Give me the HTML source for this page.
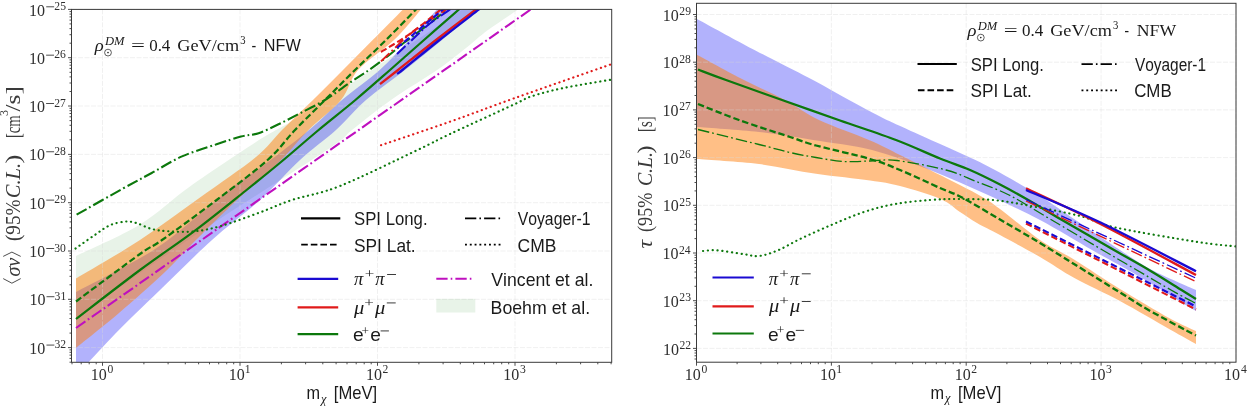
<!DOCTYPE html>
<html><head><meta charset="utf-8"><title>plot</title>
<style>html,body{margin:0;padding:0;background:#fff;width:1247px;height:407px;overflow:hidden}svg{display:block}text{font-kerning:none}</style>
</head><body>
<svg width="1247" height="407" viewBox="0 0 1247 407" style="will-change:transform;font-kerning:none"><defs><clipPath id="cl"><rect x="71.5" y="9.4" width="540.2" height="352.9"/></clipPath><clipPath id="cr"><rect x="696.5" y="3.3" width="539.5" height="358.9"/></clipPath></defs>
<g clip-path="url(#cl)">
<path d="M76.00,256.00 C86.67,250.75 121.00,236.08 140.00,224.50 C159.00,212.92 170.67,200.25 190.00,186.50 C209.33,172.75 239.00,152.92 256.00,142.00 C273.00,131.08 278.00,129.50 292.00,121.00 C306.00,112.50 322.00,102.67 340.00,91.00 C358.00,79.33 379.67,64.60 400.00,51.00 C420.33,37.40 450.33,17.90 462.00,9.40 C473.67,0.90 468.67,1.57 470.00,0.00 L530.00,0.00 C528.00,1.57 525.00,4.40 518.00,9.40 C511.00,14.40 496.67,23.57 488.00,30.00 C479.33,36.43 474.00,41.67 466.00,48.00 C458.00,54.33 452.50,59.33 440.00,68.00 C427.50,76.67 405.67,89.67 391.00,100.00 C376.33,110.33 362.67,121.67 352.00,130.00 C341.33,138.33 352.33,133.00 327.00,150.00 C301.67,167.00 241.83,204.00 200.00,232.00 C158.17,260.00 96.67,303.67 76.00,318.00 Z" fill="rgba(10,130,10,0.095)" />
<path d="M76.00,292.00 C88.67,285.17 131.33,264.00 152.00,251.00 C172.67,238.00 187.00,224.33 200.00,214.00 C213.00,203.67 219.33,197.17 230.00,189.00 C240.67,180.83 250.83,174.83 264.00,165.00 C277.17,155.17 296.00,140.83 309.00,130.00 C322.00,119.17 330.22,110.00 342.00,100.00 C353.78,90.00 368.53,80.00 379.70,70.00 C390.87,60.00 399.45,50.10 409.00,40.00 C418.55,29.90 430.67,16.07 437.00,9.40 C443.33,2.73 445.33,1.57 447.00,0.00 L487.00,0.00 C485.33,1.57 484.50,2.73 477.00,9.40 C469.50,16.07 454.00,29.90 442.00,40.00 C430.00,50.10 417.67,60.00 405.00,70.00 C392.33,80.00 377.50,90.00 366.00,100.00 C354.50,110.00 347.00,120.00 336.00,130.00 C325.00,140.00 312.67,148.33 300.00,160.00 C287.33,171.67 274.67,186.67 260.00,200.00 C245.33,213.33 228.83,224.83 212.00,240.00 C195.17,255.17 175.17,275.33 159.00,291.00 C142.83,306.67 128.83,319.83 115.00,334.00 C101.17,348.17 82.50,369.00 76.00,376.00 Z" fill="rgba(20,20,245,0.33)" />
<path d="M76.00,278.50 C86.67,272.08 119.33,253.50 140.00,240.00 C160.67,226.50 180.67,211.33 200.00,197.50 C219.33,183.67 242.33,168.25 256.00,157.00 C269.67,145.75 272.50,139.50 282.00,130.00 C291.50,120.50 302.83,110.00 313.00,100.00 C323.17,90.00 333.05,80.00 343.00,70.00 C352.95,60.00 362.70,50.10 372.70,40.00 C382.70,29.90 396.45,16.07 403.00,9.40 C409.55,2.73 410.50,1.57 412.00,0.00 L429.00,0.00 C427.67,1.57 426.83,2.73 421.00,9.40 C415.17,16.07 404.50,29.90 394.00,40.00 C383.50,50.10 366.83,60.00 358.00,70.00 C349.17,80.00 349.25,90.00 341.00,100.00 C332.75,110.00 318.50,120.00 308.50,130.00 C298.50,140.00 292.92,148.33 281.00,160.00 C269.08,171.67 251.17,186.67 237.00,200.00 C222.83,213.33 208.00,228.00 196.00,240.00 C184.00,252.00 177.83,259.83 165.00,272.00 C152.17,284.17 133.83,300.33 119.00,313.00 C104.17,325.67 83.17,342.17 76.00,348.00 Z" fill="rgba(255,127,14,0.5)" />
</g>
<g stroke="#d8d8d8" stroke-opacity="0.38" stroke-width="1" stroke-dasharray="5,1.5"><line x1="102.5" y1="9.4" x2="102.5" y2="362.3"/><line x1="240.0" y1="9.4" x2="240.0" y2="362.3"/><line x1="377.5" y1="9.4" x2="377.5" y2="362.3"/><line x1="515.0" y1="9.4" x2="515.0" y2="362.3"/><line x1="71.5" y1="9.4" x2="611.7" y2="9.4"/><line x1="71.5" y1="57.7" x2="611.7" y2="57.7"/><line x1="71.5" y1="106.0" x2="611.7" y2="106.0"/><line x1="71.5" y1="154.4" x2="611.7" y2="154.4"/><line x1="71.5" y1="202.7" x2="611.7" y2="202.7"/><line x1="71.5" y1="251.0" x2="611.7" y2="251.0"/><line x1="71.5" y1="299.3" x2="611.7" y2="299.3"/><line x1="71.5" y1="347.6" x2="611.7" y2="347.6"/></g>
<g clip-path="url(#cl)">
<path d="M76.00,328.00 C151.75,274.93 452.67,64.13 530.50,9.60 C608.33,-44.93 540.92,2.27 543.00,0.80" fill="none" stroke="#bf10bf" stroke-width="2.1" stroke-dasharray="11.6,3,1.8,3" stroke-linejoin="round" />
<path d="M381.00,145.20 C392.50,141.28 427.67,129.57 450.00,121.70 C472.33,113.83 488.00,107.62 515.00,98.00 C542.00,88.38 595.83,69.67 612.00,64.00" fill="none" stroke="#e01a1a" stroke-width="2.15" stroke-dasharray="0.2,4.65" stroke-linecap="round" stroke-linejoin="round" />
<path d="M75.50,248.50 C78.63,246.30 88.58,239.17 94.30,235.30 C100.02,231.43 104.63,227.58 109.80,225.30 C114.97,223.02 120.88,221.98 125.30,221.60 C129.72,221.22 131.88,221.77 136.30,223.00 C140.72,224.23 146.27,227.62 151.80,229.00 C157.33,230.38 162.47,230.90 169.50,231.30 C176.53,231.70 185.42,232.28 194.00,231.40 C202.58,230.52 210.00,229.17 221.00,226.00 C232.00,222.83 248.17,216.73 260.00,212.40 C271.83,208.07 278.67,204.40 292.00,200.00 C305.33,195.60 319.08,194.33 340.00,186.00 C360.92,177.67 399.17,158.67 417.50,150.00 C435.83,141.33 433.75,141.67 450.00,134.00 C466.25,126.33 501.50,110.25 515.00,104.00 C528.50,97.75 522.90,99.17 531.00,96.50 C539.10,93.83 550.10,90.83 563.60,88.00 C577.10,85.17 603.93,80.92 612.00,79.50" fill="none" stroke="#0c780c" stroke-width="2.15" stroke-dasharray="0.2,4.65" stroke-linecap="round" stroke-linejoin="round" />
<path d="M76.60,214.70 C84.33,210.33 110.48,195.45 123.00,188.50 C135.52,181.55 141.87,178.35 151.70,173.00 C161.53,167.65 171.18,161.18 182.00,156.40 C192.82,151.62 206.77,147.62 216.60,144.30 C226.43,140.98 234.00,138.35 241.00,136.50 C248.00,134.65 252.35,135.23 258.60,133.20 C264.85,131.17 271.60,127.62 278.50,124.30 C285.40,120.98 292.25,117.35 300.00,113.30 C307.75,109.25 317.00,104.88 325.00,100.00 C333.00,95.12 340.67,89.00 348.00,84.00 C355.33,79.00 362.33,74.67 369.00,70.00 C375.67,65.33 382.00,60.67 388.00,56.00 C394.00,51.33 398.83,46.83 405.00,42.00 C411.17,37.17 417.92,32.43 425.00,27.00 C432.08,21.57 441.67,13.90 447.50,9.40 C453.33,4.90 457.92,1.57 460.00,0.00" fill="none" stroke="#0c780c" stroke-width="2.1" stroke-dasharray="11.6,3,1.8,3" stroke-linejoin="round" />
<path d="M76.00,301.50 C86.67,293.58 125.67,264.25 140.00,254.00 C154.33,243.75 149.33,248.92 162.00,240.00 C174.67,231.08 198.40,213.83 216.00,200.50 C233.60,187.17 254.43,171.75 267.60,160.00 C280.77,148.25 285.43,140.00 295.00,130.00 C304.57,120.00 315.00,110.00 325.00,100.00 C335.00,90.00 344.83,80.00 355.00,70.00 C365.17,60.00 375.83,50.10 386.00,40.00 C396.17,29.90 409.50,16.07 416.00,9.40 C422.50,2.73 423.50,1.57 425.00,0.00" fill="none" stroke="#0c780c" stroke-width="2.2" stroke-dasharray="6.5,3" stroke-linejoin="round" />
<path d="M76.00,319.00 C86.67,310.83 120.33,284.60 140.00,270.00 C159.67,255.40 176.45,244.57 194.00,231.40 C211.55,218.23 230.80,202.57 245.30,191.00 C259.80,179.43 268.88,172.08 281.00,162.00 C293.12,151.92 305.60,140.83 318.00,130.50 C330.40,120.17 343.40,110.08 355.40,100.00 C367.40,89.92 378.57,80.00 390.00,70.00 C401.43,60.00 412.50,50.10 424.00,40.00 C435.50,29.90 451.33,16.07 459.00,9.40 C466.67,2.73 468.17,1.57 470.00,0.00" fill="none" stroke="#0c780c" stroke-width="2.2" stroke-linejoin="round" />
<path d="M380.00,84.20 C383.00,81.83 388.67,77.37 398.00,70.00 C407.33,62.63 423.00,50.10 436.00,40.00 C449.00,29.90 467.42,15.98 476.00,9.40 C484.58,2.82 485.58,1.98 487.50,0.50" fill="none" stroke="#e01a1a" stroke-width="2.3" stroke-linejoin="round" />
<path d="M397.00,73.80 C398.00,73.08 395.92,75.13 403.00,69.50 C410.08,63.87 426.83,50.02 439.50,40.00 C452.17,29.98 470.50,15.98 479.00,9.40 C487.50,2.82 488.58,1.98 490.50,0.50" fill="none" stroke="#1a0ad2" stroke-width="2.3" stroke-linejoin="round" />
<path d="M381.00,61.40 C383.60,58.92 392.93,50.07 396.60,46.50 C400.27,42.93 399.43,43.08 403.00,40.00 C406.57,36.92 410.83,33.10 418.00,28.00 C425.17,22.90 439.33,14.07 446.00,9.40 C452.67,4.73 456.00,1.57 458.00,0.00" fill="none" stroke="#e01a1a" stroke-width="2.0" stroke-dasharray="11.6,3,1.8,3" stroke-linejoin="round" />
<path d="M397.00,54.00 C399.50,51.67 406.83,44.83 412.00,40.00 C417.17,35.17 421.67,30.10 428.00,25.00 C434.33,19.90 444.33,13.57 450.00,9.40 C455.67,5.23 460.00,1.57 462.00,0.00" fill="none" stroke="#1a0ad2" stroke-width="2.0" stroke-dasharray="11.6,3,1.8,3" stroke-linejoin="round" />
<path d="M381.00,52.00 C385.83,48.97 400.00,40.90 410.00,33.80 C420.00,26.70 434.00,15.03 441.00,9.40 C448.00,3.77 450.17,1.57 452.00,0.00" fill="none" stroke="#e01a1a" stroke-width="2.1" stroke-dasharray="6.5,3" stroke-linejoin="round" />
<path d="M397.00,48.00 C404.67,41.57 433.50,17.40 443.00,9.40 C452.50,1.40 452.17,1.57 454.00,0.00" fill="none" stroke="#1a0ad2" stroke-width="2.1" stroke-dasharray="6.5,3" stroke-linejoin="round" />
</g>
<g clip-path="url(#cr)">
<path d="M696.50,18.70 C704.42,22.98 731.08,37.52 744.00,44.40 C756.92,51.28 762.50,54.07 774.00,60.00 C785.50,65.93 800.50,73.33 813.00,80.00 C825.50,86.67 837.83,93.92 849.00,100.00 C860.17,106.08 871.67,112.25 880.00,116.50 C888.33,120.75 890.33,121.50 899.00,125.50 C907.67,129.50 920.72,135.42 932.00,140.50 C943.28,145.58 956.20,151.08 966.70,156.00 C977.20,160.92 982.78,163.33 995.00,170.00 C1007.22,176.67 1026.58,187.67 1040.00,196.00 C1053.42,204.33 1062.17,211.00 1075.50,220.00 C1088.83,229.00 1107.25,241.67 1120.00,250.00 C1132.75,258.33 1139.33,263.33 1152.00,270.00 C1164.67,276.67 1188.67,286.67 1196.00,290.00 L1196.00,311.00 C1193.17,309.33 1184.67,304.50 1179.00,301.00 C1173.33,297.50 1170.50,295.17 1162.00,290.00 C1153.50,284.83 1139.67,276.67 1128.00,270.00 C1116.33,263.33 1106.67,258.33 1092.00,250.00 C1077.33,241.67 1057.33,229.17 1040.00,220.00 C1022.67,210.83 1006.33,203.33 988.00,195.00 C969.67,186.67 949.33,177.50 930.00,170.00 C910.67,162.50 891.50,155.00 872.00,150.00 C852.50,145.00 831.83,143.00 813.00,140.00 C794.17,137.00 778.42,134.17 759.00,132.00 C739.58,129.83 706.92,127.83 696.50,127.00 Z" fill="rgba(20,20,245,0.33)" />
<path d="M696.50,54.40 C704.42,58.67 729.25,72.40 744.00,80.00 C758.75,87.60 772.50,93.33 785.00,100.00 C797.50,106.67 805.00,113.33 819.00,120.00 C833.00,126.67 855.50,134.17 869.00,140.00 C882.50,145.83 889.83,150.00 900.00,155.00 C910.17,160.00 917.17,163.50 930.00,170.00 C942.83,176.50 965.33,187.50 977.00,194.00 C988.67,200.50 989.50,201.33 1000.00,209.00 C1010.50,216.67 1027.67,231.58 1040.00,240.00 C1052.33,248.42 1060.67,251.33 1074.00,259.50 C1087.33,267.67 1104.00,279.17 1120.00,289.00 C1136.00,298.83 1157.33,311.50 1170.00,318.50 C1182.67,325.50 1191.67,328.92 1196.00,331.00 L1196.00,344.00 C1191.67,341.58 1182.67,336.67 1170.00,329.50 C1157.33,322.33 1135.93,309.58 1120.00,301.00 C1104.07,292.42 1087.73,285.33 1074.40,278.00 C1061.07,270.67 1052.40,264.17 1040.00,257.00 C1027.60,249.83 1010.50,240.67 1000.00,235.00 C989.50,229.33 983.67,226.83 977.00,223.00 C970.33,219.17 966.08,216.00 960.00,212.00 C953.92,208.00 950.50,203.33 940.50,199.00 C930.50,194.67 911.75,189.08 900.00,186.00 C888.25,182.92 884.00,182.53 870.00,180.50 C856.00,178.47 834.50,176.55 816.00,173.80 C797.50,171.05 778.92,166.47 759.00,164.00 C739.08,161.53 706.92,159.83 696.50,159.00 Z" fill="rgba(255,127,14,0.5)" />
</g>
<g stroke="#d8d8d8" stroke-opacity="0.38" stroke-width="1" stroke-dasharray="5,1.5"><line x1="696.5" y1="3.3" x2="696.5" y2="362.2"/><line x1="831.4" y1="3.3" x2="831.4" y2="362.2"/><line x1="966.2" y1="3.3" x2="966.2" y2="362.2"/><line x1="1101.1" y1="3.3" x2="1101.1" y2="362.2"/><line x1="1236.0" y1="3.3" x2="1236.0" y2="362.2"/><line x1="696.5" y1="14.5" x2="1236.0" y2="14.5"/><line x1="696.5" y1="62.2" x2="1236.0" y2="62.2"/><line x1="696.5" y1="109.9" x2="1236.0" y2="109.9"/><line x1="696.5" y1="157.6" x2="1236.0" y2="157.6"/><line x1="696.5" y1="205.3" x2="1236.0" y2="205.3"/><line x1="696.5" y1="253.0" x2="1236.0" y2="253.0"/><line x1="696.5" y1="300.7" x2="1236.0" y2="300.7"/><line x1="696.5" y1="348.4" x2="1236.0" y2="348.4"/></g>
<g clip-path="url(#cr)">
<path d="M703.00,251.00 C705.33,250.88 710.33,249.80 717.00,250.30 C723.67,250.80 736.00,253.05 743.00,254.00 C750.00,254.95 753.17,256.62 759.00,256.00 C764.83,255.38 771.17,253.13 778.00,250.30 C784.83,247.47 791.00,243.27 800.00,239.00 C809.00,234.73 821.33,229.20 832.00,224.70 C842.67,220.20 853.50,215.45 864.00,212.00 C874.50,208.55 884.00,206.00 895.00,204.00 C906.00,202.00 919.17,200.83 930.00,200.00 C940.83,199.17 948.83,198.93 960.00,199.00 C971.17,199.07 984.67,199.13 997.00,200.40 C1009.33,201.67 1020.17,204.00 1034.00,206.60 C1047.83,209.20 1066.50,212.53 1080.00,216.00 C1093.50,219.47 1095.33,223.07 1115.00,227.40 C1134.67,231.73 1177.83,238.83 1198.00,242.00 C1218.17,245.17 1229.67,245.67 1236.00,246.40" fill="none" stroke="#0c780c" stroke-width="2.15" stroke-dasharray="0.2,4.65" stroke-linecap="round" stroke-linejoin="round" />
<path d="M698.00,129.50 C708.17,132.00 743.67,140.67 759.00,144.50 C774.33,148.33 780.50,150.33 790.00,152.50 C799.50,154.67 807.17,156.00 816.00,157.50 C824.83,159.00 834.00,160.92 843.00,161.50 C852.00,162.08 861.00,161.17 870.00,161.00 C879.00,160.83 884.33,159.00 897.00,160.50 C909.67,162.00 933.00,166.58 946.00,170.00 C959.00,173.42 964.50,176.83 975.00,181.00 C985.50,185.17 996.50,188.67 1009.00,195.00 C1021.50,201.33 1034.42,209.83 1050.00,219.00 C1065.58,228.17 1082.33,238.17 1102.50,250.00 C1122.67,261.83 1156.17,281.50 1171.00,290.00 C1185.83,298.50 1187.33,298.75 1191.50,301.00 C1195.67,303.25 1195.25,303.08 1196.00,303.50" fill="none" stroke="#0c780c" stroke-width="1.3" stroke-dasharray="11.6,3,1.8,3" stroke-linejoin="round" />
<path d="M698.00,104.00 C704.83,106.67 723.67,114.50 739.00,120.00 C754.33,125.50 777.17,132.75 790.00,137.00 C802.83,141.25 802.67,141.83 816.00,145.50 C829.33,149.17 856.00,154.92 870.00,159.00 C884.00,163.08 888.33,165.17 900.00,170.00 C911.67,174.83 929.67,183.42 940.00,188.00 C950.33,192.58 952.00,192.25 962.00,197.50 C972.00,202.75 987.00,211.92 1000.00,219.50 C1013.00,227.08 1027.67,235.58 1040.00,243.00 C1052.33,250.42 1060.67,255.75 1074.00,264.00 C1087.33,272.25 1107.58,284.83 1120.00,292.50 C1132.42,300.17 1135.83,302.82 1148.50,310.00 C1161.17,317.18 1188.08,331.33 1196.00,335.60" fill="none" stroke="#0c780c" stroke-width="2.3" stroke-dasharray="6.5,3" stroke-linejoin="round" />
<path d="M698.00,69.50 C702.67,71.25 712.00,74.92 726.00,80.00 C740.00,85.08 763.00,93.25 782.00,100.00 C801.00,106.75 821.00,113.83 840.00,120.50 C859.00,127.17 879.33,133.67 896.00,140.00 C912.67,146.33 927.67,153.50 940.00,158.50 C952.33,163.50 960.00,165.67 970.00,170.00 C980.00,174.33 990.00,179.33 1000.00,184.50 C1010.00,189.67 1019.67,195.08 1030.00,201.00 C1040.33,206.92 1048.00,211.83 1062.00,220.00 C1076.00,228.17 1099.50,241.67 1114.00,250.00 C1128.50,258.33 1137.75,263.33 1149.00,270.00 C1160.25,276.67 1173.67,285.17 1181.50,290.00 C1189.33,294.83 1193.58,297.50 1196.00,299.00" fill="none" stroke="#0c780c" stroke-width="2.3" stroke-linejoin="round" />
<path d="M1026.00,223.50 C1054.33,237.83 1167.67,295.17 1196.00,309.50" fill="none" stroke="#e01a1a" stroke-width="2.1" stroke-dasharray="6.5,3" stroke-linejoin="round" />
<path d="M1026.00,221.50 C1054.33,235.67 1167.67,292.33 1196.00,306.50" fill="none" stroke="#1a0ad2" stroke-width="2.1" stroke-dasharray="6.5,3" stroke-linejoin="round" />
<path d="M1026.00,201.00 C1054.33,214.43 1167.67,268.17 1196.00,281.60" fill="none" stroke="#e01a1a" stroke-width="1.3" stroke-dasharray="11.6,3,1.8,3" stroke-linejoin="round" />
<path d="M1026.00,199.50 C1054.33,212.62 1167.67,265.08 1196.00,278.20" fill="none" stroke="#1a0ad2" stroke-width="1.3" stroke-dasharray="11.6,3,1.8,3" stroke-linejoin="round" />
<path d="M1026.00,188.30 C1038.33,194.22 1071.67,209.35 1100.00,223.80 C1128.33,238.25 1180.00,266.47 1196.00,275.00" fill="none" stroke="#e01a1a" stroke-width="2.3" stroke-linejoin="round" />
<path d="M1026.00,190.00 C1038.33,195.38 1071.67,208.77 1100.00,222.30 C1128.33,235.83 1180.00,263.05 1196.00,271.20" fill="none" stroke="#1a0ad2" stroke-width="2.3" stroke-linejoin="round" />
</g>
<rect x="71.5" y="9.4" width="540.2" height="352.9" fill="none" stroke="#3a3a3a" stroke-width="1.0"/>
<rect x="696.5" y="3.3" width="539.5" height="358.9" fill="none" stroke="#3a3a3a" stroke-width="1.0"/>
<g stroke="#3a3a3a" stroke-width="0.9"><line x1="72.0" y1="362.3" x2="72.0" y2="364.3"/><line x1="81.2" y1="362.3" x2="81.2" y2="364.3"/><line x1="89.2" y1="362.3" x2="89.2" y2="364.3"/><line x1="96.2" y1="362.3" x2="96.2" y2="364.3"/><line x1="102.5" y1="362.3" x2="102.5" y2="365.8"/><line x1="143.9" y1="362.3" x2="143.9" y2="364.3"/><line x1="168.1" y1="362.3" x2="168.1" y2="364.3"/><line x1="185.3" y1="362.3" x2="185.3" y2="364.3"/><line x1="198.6" y1="362.3" x2="198.6" y2="364.3"/><line x1="209.5" y1="362.3" x2="209.5" y2="364.3"/><line x1="218.7" y1="362.3" x2="218.7" y2="364.3"/><line x1="226.7" y1="362.3" x2="226.7" y2="364.3"/><line x1="233.7" y1="362.3" x2="233.7" y2="364.3"/><line x1="240.0" y1="362.3" x2="240.0" y2="365.8"/><line x1="281.4" y1="362.3" x2="281.4" y2="364.3"/><line x1="305.6" y1="362.3" x2="305.6" y2="364.3"/><line x1="322.8" y1="362.3" x2="322.8" y2="364.3"/><line x1="336.1" y1="362.3" x2="336.1" y2="364.3"/><line x1="347.0" y1="362.3" x2="347.0" y2="364.3"/><line x1="356.2" y1="362.3" x2="356.2" y2="364.3"/><line x1="364.2" y1="362.3" x2="364.2" y2="364.3"/><line x1="371.2" y1="362.3" x2="371.2" y2="364.3"/><line x1="377.5" y1="362.3" x2="377.5" y2="365.8"/><line x1="418.9" y1="362.3" x2="418.9" y2="364.3"/><line x1="443.1" y1="362.3" x2="443.1" y2="364.3"/><line x1="460.3" y1="362.3" x2="460.3" y2="364.3"/><line x1="473.6" y1="362.3" x2="473.6" y2="364.3"/><line x1="484.5" y1="362.3" x2="484.5" y2="364.3"/><line x1="493.7" y1="362.3" x2="493.7" y2="364.3"/><line x1="501.7" y1="362.3" x2="501.7" y2="364.3"/><line x1="508.7" y1="362.3" x2="508.7" y2="364.3"/><line x1="515.0" y1="362.3" x2="515.0" y2="365.8"/><line x1="556.4" y1="362.3" x2="556.4" y2="364.3"/><line x1="580.6" y1="362.3" x2="580.6" y2="364.3"/><line x1="597.8" y1="362.3" x2="597.8" y2="364.3"/><line x1="611.1" y1="362.3" x2="611.1" y2="364.3"/><line x1="69.5" y1="362.2" x2="71.5" y2="362.2"/><line x1="69.5" y1="358.4" x2="71.5" y2="358.4"/><line x1="69.5" y1="355.1" x2="71.5" y2="355.1"/><line x1="69.5" y1="352.3" x2="71.5" y2="352.3"/><line x1="69.5" y1="349.9" x2="71.5" y2="349.9"/><line x1="68.0" y1="347.6" x2="71.5" y2="347.6"/><line x1="69.5" y1="333.1" x2="71.5" y2="333.1"/><line x1="69.5" y1="324.6" x2="71.5" y2="324.6"/><line x1="69.5" y1="318.5" x2="71.5" y2="318.5"/><line x1="69.5" y1="313.9" x2="71.5" y2="313.9"/><line x1="69.5" y1="310.0" x2="71.5" y2="310.0"/><line x1="69.5" y1="306.8" x2="71.5" y2="306.8"/><line x1="69.5" y1="304.0" x2="71.5" y2="304.0"/><line x1="69.5" y1="301.5" x2="71.5" y2="301.5"/><line x1="68.0" y1="299.3" x2="71.5" y2="299.3"/><line x1="69.5" y1="284.8" x2="71.5" y2="284.8"/><line x1="69.5" y1="276.3" x2="71.5" y2="276.3"/><line x1="69.5" y1="270.2" x2="71.5" y2="270.2"/><line x1="69.5" y1="265.5" x2="71.5" y2="265.5"/><line x1="69.5" y1="261.7" x2="71.5" y2="261.7"/><line x1="69.5" y1="258.5" x2="71.5" y2="258.5"/><line x1="69.5" y1="255.7" x2="71.5" y2="255.7"/><line x1="69.5" y1="253.2" x2="71.5" y2="253.2"/><line x1="68.0" y1="251.0" x2="71.5" y2="251.0"/><line x1="69.5" y1="236.5" x2="71.5" y2="236.5"/><line x1="69.5" y1="227.9" x2="71.5" y2="227.9"/><line x1="69.5" y1="221.9" x2="71.5" y2="221.9"/><line x1="69.5" y1="217.2" x2="71.5" y2="217.2"/><line x1="69.5" y1="213.4" x2="71.5" y2="213.4"/><line x1="69.5" y1="210.2" x2="71.5" y2="210.2"/><line x1="69.5" y1="207.4" x2="71.5" y2="207.4"/><line x1="69.5" y1="204.9" x2="71.5" y2="204.9"/><line x1="68.0" y1="202.7" x2="71.5" y2="202.7"/><line x1="69.5" y1="188.1" x2="71.5" y2="188.1"/><line x1="69.5" y1="179.6" x2="71.5" y2="179.6"/><line x1="69.5" y1="173.6" x2="71.5" y2="173.6"/><line x1="69.5" y1="168.9" x2="71.5" y2="168.9"/><line x1="69.5" y1="165.1" x2="71.5" y2="165.1"/><line x1="69.5" y1="161.8" x2="71.5" y2="161.8"/><line x1="69.5" y1="159.0" x2="71.5" y2="159.0"/><line x1="69.5" y1="156.6" x2="71.5" y2="156.6"/><line x1="68.0" y1="154.4" x2="71.5" y2="154.4"/><line x1="69.5" y1="139.8" x2="71.5" y2="139.8"/><line x1="69.5" y1="131.3" x2="71.5" y2="131.3"/><line x1="69.5" y1="125.3" x2="71.5" y2="125.3"/><line x1="69.5" y1="120.6" x2="71.5" y2="120.6"/><line x1="69.5" y1="116.8" x2="71.5" y2="116.8"/><line x1="69.5" y1="113.5" x2="71.5" y2="113.5"/><line x1="69.5" y1="110.7" x2="71.5" y2="110.7"/><line x1="69.5" y1="108.3" x2="71.5" y2="108.3"/><line x1="68.0" y1="106.0" x2="71.5" y2="106.0"/><line x1="69.5" y1="91.5" x2="71.5" y2="91.5"/><line x1="69.5" y1="83.0" x2="71.5" y2="83.0"/><line x1="69.5" y1="76.9" x2="71.5" y2="76.9"/><line x1="69.5" y1="72.3" x2="71.5" y2="72.3"/><line x1="69.5" y1="68.4" x2="71.5" y2="68.4"/><line x1="69.5" y1="65.2" x2="71.5" y2="65.2"/><line x1="69.5" y1="62.4" x2="71.5" y2="62.4"/><line x1="69.5" y1="59.9" x2="71.5" y2="59.9"/><line x1="68.0" y1="57.7" x2="71.5" y2="57.7"/><line x1="69.5" y1="43.2" x2="71.5" y2="43.2"/><line x1="69.5" y1="34.7" x2="71.5" y2="34.7"/><line x1="69.5" y1="28.6" x2="71.5" y2="28.6"/><line x1="69.5" y1="23.9" x2="71.5" y2="23.9"/><line x1="69.5" y1="20.1" x2="71.5" y2="20.1"/><line x1="69.5" y1="16.9" x2="71.5" y2="16.9"/><line x1="69.5" y1="14.1" x2="71.5" y2="14.1"/><line x1="69.5" y1="11.6" x2="71.5" y2="11.6"/><line x1="68.0" y1="9.4" x2="71.5" y2="9.4"/></g>
<g stroke="#3a3a3a" stroke-width="0.9"><line x1="696.5" y1="362.2" x2="696.5" y2="365.7"/><line x1="737.1" y1="362.2" x2="737.1" y2="364.2"/><line x1="760.9" y1="362.2" x2="760.9" y2="364.2"/><line x1="777.7" y1="362.2" x2="777.7" y2="364.2"/><line x1="790.8" y1="362.2" x2="790.8" y2="364.2"/><line x1="801.5" y1="362.2" x2="801.5" y2="364.2"/><line x1="810.5" y1="362.2" x2="810.5" y2="364.2"/><line x1="818.3" y1="362.2" x2="818.3" y2="364.2"/><line x1="825.2" y1="362.2" x2="825.2" y2="364.2"/><line x1="831.4" y1="362.2" x2="831.4" y2="365.7"/><line x1="872.0" y1="362.2" x2="872.0" y2="364.2"/><line x1="895.7" y1="362.2" x2="895.7" y2="364.2"/><line x1="912.6" y1="362.2" x2="912.6" y2="364.2"/><line x1="925.6" y1="362.2" x2="925.6" y2="364.2"/><line x1="936.3" y1="362.2" x2="936.3" y2="364.2"/><line x1="945.4" y1="362.2" x2="945.4" y2="364.2"/><line x1="953.2" y1="362.2" x2="953.2" y2="364.2"/><line x1="960.1" y1="362.2" x2="960.1" y2="364.2"/><line x1="966.2" y1="362.2" x2="966.2" y2="365.7"/><line x1="1006.9" y1="362.2" x2="1006.9" y2="364.2"/><line x1="1030.6" y1="362.2" x2="1030.6" y2="364.2"/><line x1="1047.5" y1="362.2" x2="1047.5" y2="364.2"/><line x1="1060.5" y1="362.2" x2="1060.5" y2="364.2"/><line x1="1071.2" y1="362.2" x2="1071.2" y2="364.2"/><line x1="1080.2" y1="362.2" x2="1080.2" y2="364.2"/><line x1="1088.1" y1="362.2" x2="1088.1" y2="364.2"/><line x1="1095.0" y1="362.2" x2="1095.0" y2="364.2"/><line x1="1101.1" y1="362.2" x2="1101.1" y2="365.7"/><line x1="1141.7" y1="362.2" x2="1141.7" y2="364.2"/><line x1="1165.5" y1="362.2" x2="1165.5" y2="364.2"/><line x1="1182.3" y1="362.2" x2="1182.3" y2="364.2"/><line x1="1195.4" y1="362.2" x2="1195.4" y2="364.2"/><line x1="1206.1" y1="362.2" x2="1206.1" y2="364.2"/><line x1="1215.1" y1="362.2" x2="1215.1" y2="364.2"/><line x1="1222.9" y1="362.2" x2="1222.9" y2="364.2"/><line x1="1229.8" y1="362.2" x2="1229.8" y2="364.2"/><line x1="694.5" y1="359.0" x2="696.5" y2="359.0"/><line x1="694.5" y1="355.8" x2="696.5" y2="355.8"/><line x1="694.5" y1="353.0" x2="696.5" y2="353.0"/><line x1="694.5" y1="350.6" x2="696.5" y2="350.6"/><line x1="693.0" y1="348.4" x2="696.5" y2="348.4"/><line x1="694.5" y1="334.0" x2="696.5" y2="334.0"/><line x1="694.5" y1="325.6" x2="696.5" y2="325.6"/><line x1="694.5" y1="319.7" x2="696.5" y2="319.7"/><line x1="694.5" y1="315.1" x2="696.5" y2="315.1"/><line x1="694.5" y1="311.3" x2="696.5" y2="311.3"/><line x1="694.5" y1="308.1" x2="696.5" y2="308.1"/><line x1="694.5" y1="305.3" x2="696.5" y2="305.3"/><line x1="694.5" y1="302.9" x2="696.5" y2="302.9"/><line x1="693.0" y1="300.7" x2="696.5" y2="300.7"/><line x1="694.5" y1="286.3" x2="696.5" y2="286.3"/><line x1="694.5" y1="277.9" x2="696.5" y2="277.9"/><line x1="694.5" y1="272.0" x2="696.5" y2="272.0"/><line x1="694.5" y1="267.4" x2="696.5" y2="267.4"/><line x1="694.5" y1="263.6" x2="696.5" y2="263.6"/><line x1="694.5" y1="260.4" x2="696.5" y2="260.4"/><line x1="694.5" y1="257.6" x2="696.5" y2="257.6"/><line x1="694.5" y1="255.2" x2="696.5" y2="255.2"/><line x1="693.0" y1="253.0" x2="696.5" y2="253.0"/><line x1="694.5" y1="238.6" x2="696.5" y2="238.6"/><line x1="694.5" y1="230.2" x2="696.5" y2="230.2"/><line x1="694.5" y1="224.3" x2="696.5" y2="224.3"/><line x1="694.5" y1="219.7" x2="696.5" y2="219.7"/><line x1="694.5" y1="215.9" x2="696.5" y2="215.9"/><line x1="694.5" y1="212.7" x2="696.5" y2="212.7"/><line x1="694.5" y1="209.9" x2="696.5" y2="209.9"/><line x1="694.5" y1="207.5" x2="696.5" y2="207.5"/><line x1="693.0" y1="205.3" x2="696.5" y2="205.3"/><line x1="694.5" y1="190.9" x2="696.5" y2="190.9"/><line x1="694.5" y1="182.5" x2="696.5" y2="182.5"/><line x1="694.5" y1="176.6" x2="696.5" y2="176.6"/><line x1="694.5" y1="172.0" x2="696.5" y2="172.0"/><line x1="694.5" y1="168.2" x2="696.5" y2="168.2"/><line x1="694.5" y1="165.0" x2="696.5" y2="165.0"/><line x1="694.5" y1="162.2" x2="696.5" y2="162.2"/><line x1="694.5" y1="159.8" x2="696.5" y2="159.8"/><line x1="693.0" y1="157.6" x2="696.5" y2="157.6"/><line x1="694.5" y1="143.2" x2="696.5" y2="143.2"/><line x1="694.5" y1="134.8" x2="696.5" y2="134.8"/><line x1="694.5" y1="128.9" x2="696.5" y2="128.9"/><line x1="694.5" y1="124.3" x2="696.5" y2="124.3"/><line x1="694.5" y1="120.5" x2="696.5" y2="120.5"/><line x1="694.5" y1="117.3" x2="696.5" y2="117.3"/><line x1="694.5" y1="114.5" x2="696.5" y2="114.5"/><line x1="694.5" y1="112.1" x2="696.5" y2="112.1"/><line x1="693.0" y1="109.9" x2="696.5" y2="109.9"/><line x1="694.5" y1="95.5" x2="696.5" y2="95.5"/><line x1="694.5" y1="87.1" x2="696.5" y2="87.1"/><line x1="694.5" y1="81.2" x2="696.5" y2="81.2"/><line x1="694.5" y1="76.6" x2="696.5" y2="76.6"/><line x1="694.5" y1="72.8" x2="696.5" y2="72.8"/><line x1="694.5" y1="69.6" x2="696.5" y2="69.6"/><line x1="694.5" y1="66.8" x2="696.5" y2="66.8"/><line x1="694.5" y1="64.4" x2="696.5" y2="64.4"/><line x1="693.0" y1="62.2" x2="696.5" y2="62.2"/><line x1="694.5" y1="47.8" x2="696.5" y2="47.8"/><line x1="694.5" y1="39.4" x2="696.5" y2="39.4"/><line x1="694.5" y1="33.5" x2="696.5" y2="33.5"/><line x1="694.5" y1="28.9" x2="696.5" y2="28.9"/><line x1="694.5" y1="25.1" x2="696.5" y2="25.1"/><line x1="694.5" y1="21.9" x2="696.5" y2="21.9"/><line x1="694.5" y1="19.1" x2="696.5" y2="19.1"/><line x1="694.5" y1="16.7" x2="696.5" y2="16.7"/><line x1="693.0" y1="14.5" x2="696.5" y2="14.5"/></g>
<text transform="translate(29.12,15.50) scale(0.9153,1)" style="font-family:'Liberation Serif',serif;font-size:17.5px" fill="#2e2e2e">10</text><rect x="46.23" y="6.40" width="7.9" height="0.85" fill="#2e2e2e"/><text transform="translate(54.31,9.90) scale(0.9700,1)" style="font-family:'Liberation Serif',serif;font-size:12.0px" fill="#2e2e2e">25</text>
<text transform="translate(29.01,63.82) scale(0.9153,1)" style="font-family:'Liberation Serif',serif;font-size:17.5px" fill="#2e2e2e">10</text><rect x="46.12" y="54.72" width="7.9" height="0.85" fill="#2e2e2e"/><text transform="translate(54.21,58.22) scale(0.9700,1)" style="font-family:'Liberation Serif',serif;font-size:12.0px" fill="#2e2e2e">26</text>
<text transform="translate(29.00,112.14) scale(0.9153,1)" style="font-family:'Liberation Serif',serif;font-size:17.5px" fill="#2e2e2e">10</text><rect x="46.11" y="103.04" width="7.9" height="0.85" fill="#2e2e2e"/><text transform="translate(54.20,106.54) scale(0.9700,1)" style="font-family:'Liberation Serif',serif;font-size:12.0px" fill="#2e2e2e">27</text>
<text transform="translate(29.11,160.46) scale(0.9153,1)" style="font-family:'Liberation Serif',serif;font-size:17.5px" fill="#2e2e2e">10</text><rect x="46.21" y="151.36" width="7.9" height="0.85" fill="#2e2e2e"/><text transform="translate(54.30,154.86) scale(0.9700,1)" style="font-family:'Liberation Serif',serif;font-size:12.0px" fill="#2e2e2e">28</text>
<text transform="translate(29.14,208.78) scale(0.9153,1)" style="font-family:'Liberation Serif',serif;font-size:17.5px" fill="#2e2e2e">10</text><rect x="46.25" y="199.68" width="7.9" height="0.85" fill="#2e2e2e"/><text transform="translate(54.34,203.18) scale(0.9700,1)" style="font-family:'Liberation Serif',serif;font-size:12.0px" fill="#2e2e2e">29</text>
<text transform="translate(29.15,257.10) scale(0.9153,1)" style="font-family:'Liberation Serif',serif;font-size:17.5px" fill="#2e2e2e">10</text><rect x="46.26" y="248.00" width="7.9" height="0.85" fill="#2e2e2e"/><text transform="translate(54.30,251.50) scale(0.9700,1)" style="font-family:'Liberation Serif',serif;font-size:12.0px" fill="#2e2e2e">30</text>
<text transform="translate(29.41,305.42) scale(0.9153,1)" style="font-family:'Liberation Serif',serif;font-size:17.5px" fill="#2e2e2e">10</text><rect x="46.52" y="296.32" width="7.9" height="0.85" fill="#2e2e2e"/><text transform="translate(54.56,299.82) scale(0.9700,1)" style="font-family:'Liberation Serif',serif;font-size:12.0px" fill="#2e2e2e">31</text>
<text transform="translate(29.35,353.74) scale(0.9153,1)" style="font-family:'Liberation Serif',serif;font-size:17.5px" fill="#2e2e2e">10</text><rect x="46.46" y="344.64" width="7.9" height="0.85" fill="#2e2e2e"/><text transform="translate(54.50,348.14) scale(0.9700,1)" style="font-family:'Liberation Serif',serif;font-size:12.0px" fill="#2e2e2e">32</text>
<text transform="translate(662.74,20.60) scale(0.9153,1)" style="font-family:'Liberation Serif',serif;font-size:17.5px" fill="#2e2e2e">10</text><text transform="translate(679.34,15.00) scale(0.9700,1)" style="font-family:'Liberation Serif',serif;font-size:12.0px" fill="#2e2e2e">29</text>
<text transform="translate(662.71,68.30) scale(0.9153,1)" style="font-family:'Liberation Serif',serif;font-size:17.5px" fill="#2e2e2e">10</text><text transform="translate(679.30,62.70) scale(0.9700,1)" style="font-family:'Liberation Serif',serif;font-size:12.0px" fill="#2e2e2e">28</text>
<text transform="translate(662.60,116.00) scale(0.9153,1)" style="font-family:'Liberation Serif',serif;font-size:17.5px" fill="#2e2e2e">10</text><text transform="translate(679.20,110.40) scale(0.9700,1)" style="font-family:'Liberation Serif',serif;font-size:12.0px" fill="#2e2e2e">27</text>
<text transform="translate(662.61,163.70) scale(0.9153,1)" style="font-family:'Liberation Serif',serif;font-size:17.5px" fill="#2e2e2e">10</text><text transform="translate(679.21,158.10) scale(0.9700,1)" style="font-family:'Liberation Serif',serif;font-size:12.0px" fill="#2e2e2e">26</text>
<text transform="translate(662.72,211.40) scale(0.9153,1)" style="font-family:'Liberation Serif',serif;font-size:17.5px" fill="#2e2e2e">10</text><text transform="translate(679.31,205.80) scale(0.9700,1)" style="font-family:'Liberation Serif',serif;font-size:12.0px" fill="#2e2e2e">25</text>
<text transform="translate(662.45,259.10) scale(0.9153,1)" style="font-family:'Liberation Serif',serif;font-size:17.5px" fill="#2e2e2e">10</text><text transform="translate(679.04,253.50) scale(0.9700,1)" style="font-family:'Liberation Serif',serif;font-size:12.0px" fill="#2e2e2e">24</text>
<text transform="translate(662.72,306.80) scale(0.9153,1)" style="font-family:'Liberation Serif',serif;font-size:17.5px" fill="#2e2e2e">10</text><text transform="translate(679.31,301.20) scale(0.9700,1)" style="font-family:'Liberation Serif',serif;font-size:12.0px" fill="#2e2e2e">23</text>
<text transform="translate(662.91,354.50) scale(0.9153,1)" style="font-family:'Liberation Serif',serif;font-size:17.5px" fill="#2e2e2e">10</text><text transform="translate(679.50,348.90) scale(0.9700,1)" style="font-family:'Liberation Serif',serif;font-size:12.0px" fill="#2e2e2e">22</text>
<text transform="translate(90.78,379.50) scale(0.9153,1)" style="font-family:'Liberation Serif',serif;font-size:17.5px" fill="#2e2e2e">10</text><text transform="translate(107.44,373.10) scale(0.9700,1)" style="font-family:'Liberation Serif',serif;font-size:12.0px" fill="#2e2e2e">0</text>
<text transform="translate(228.69,379.50) scale(0.9153,1)" style="font-family:'Liberation Serif',serif;font-size:17.5px" fill="#2e2e2e">10</text><text transform="translate(244.78,373.10) scale(0.9700,1)" style="font-family:'Liberation Serif',serif;font-size:12.0px" fill="#2e2e2e">1</text>
<text transform="translate(365.91,379.50) scale(0.9153,1)" style="font-family:'Liberation Serif',serif;font-size:17.5px" fill="#2e2e2e">10</text><text transform="translate(382.51,373.10) scale(0.9700,1)" style="font-family:'Liberation Serif',serif;font-size:12.0px" fill="#2e2e2e">2</text>
<text transform="translate(503.34,379.50) scale(0.9153,1)" style="font-family:'Liberation Serif',serif;font-size:17.5px" fill="#2e2e2e">10</text><text transform="translate(519.89,373.10) scale(0.9700,1)" style="font-family:'Liberation Serif',serif;font-size:12.0px" fill="#2e2e2e">3</text>
<text transform="translate(684.78,379.50) scale(0.9153,1)" style="font-family:'Liberation Serif',serif;font-size:17.5px" fill="#2e2e2e">10</text><text transform="translate(701.44,373.10) scale(0.9700,1)" style="font-family:'Liberation Serif',serif;font-size:12.0px" fill="#2e2e2e">0</text>
<text transform="translate(820.07,379.50) scale(0.9153,1)" style="font-family:'Liberation Serif',serif;font-size:17.5px" fill="#2e2e2e">10</text><text transform="translate(836.15,373.10) scale(0.9700,1)" style="font-family:'Liberation Serif',serif;font-size:12.0px" fill="#2e2e2e">1</text>
<text transform="translate(954.66,379.50) scale(0.9153,1)" style="font-family:'Liberation Serif',serif;font-size:17.5px" fill="#2e2e2e">10</text><text transform="translate(971.26,373.10) scale(0.9700,1)" style="font-family:'Liberation Serif',serif;font-size:12.0px" fill="#2e2e2e">2</text>
<text transform="translate(1089.46,379.50) scale(0.9153,1)" style="font-family:'Liberation Serif',serif;font-size:17.5px" fill="#2e2e2e">10</text><text transform="translate(1106.01,373.10) scale(0.9700,1)" style="font-family:'Liberation Serif',serif;font-size:12.0px" fill="#2e2e2e">3</text>
<text transform="translate(1224.04,379.50) scale(0.9153,1)" style="font-family:'Liberation Serif',serif;font-size:17.5px" fill="#2e2e2e">10</text><text transform="translate(1240.92,373.10) scale(0.9700,1)" style="font-family:'Liberation Serif',serif;font-size:12.0px" fill="#2e2e2e">4</text>
<text transform="translate(306.42,399.40) scale(0.9244,1)" style="font-family:'Liberation Sans',sans-serif;font-size:17.6px" fill="#1a1a1a">m</text><text transform="translate(320.89,402.60) scale(0.9916,1)" style="font-family:'Liberation Serif',serif;font-style:italic;font-size:12.5px" fill="#1a1a1a">χ</text><text transform="translate(333.81,399.40) scale(0.9457,1)" style="font-family:'Liberation Sans',sans-serif;font-size:17.6px" fill="#1a1a1a">[MeV]</text>
<text transform="translate(930.52,399.10) scale(0.9244,1)" style="font-family:'Liberation Sans',sans-serif;font-size:17.6px" fill="#1a1a1a">m</text><text transform="translate(944.99,402.30) scale(0.9916,1)" style="font-family:'Liberation Serif',serif;font-style:italic;font-size:12.5px" fill="#1a1a1a">χ</text><text transform="translate(957.91,399.10) scale(0.9457,1)" style="font-family:'Liberation Sans',sans-serif;font-size:17.6px" fill="#1a1a1a">[MeV]</text>
<polyline points="3.2,278.6 11.9,283.2 20.7,278.6" fill="none" stroke="#3a3a3a" stroke-width="0.9"/>
<text transform="translate(19.60,276.60) rotate(-90) scale(0.9840,1)" style="font-family:'Liberation Serif',serif;font-style:italic;font-size:20.5px" fill="#3a3a3a">σv</text>
<polyline points="3.2,256.4 11.9,252.1 20.7,256.4" fill="none" stroke="#3a3a3a" stroke-width="0.9"/>
<text transform="translate(19.60,241.05) rotate(-90) scale(0.9392,1)" style="font-family:'Liberation Serif',serif;font-size:20.5px" fill="#3a3a3a">(95%</text>
<text transform="translate(19.60,198.14) rotate(-90) scale(0.9990,1)" style="font-family:'Liberation Serif',serif;font-style:italic;font-size:20.5px" fill="#3a3a3a">C.L.</text>
<text transform="translate(19.60,163.55) rotate(-90) scale(1.2915,1)" style="font-family:'Liberation Serif',serif;font-size:20.5px" fill="#3a3a3a">)</text>
<text transform="translate(19.60,138.09) rotate(-90) scale(0.7193,1)" style="font-family:'Liberation Serif',serif;font-size:20.5px" fill="#3a3a3a">[cm</text>
<text transform="translate(8.40,115.97) rotate(-90) scale(0.8787,1)" style="font-family:'Liberation Serif',serif;font-size:13.5px" fill="#3a3a3a">3</text>
<text transform="translate(19.60,111.50) rotate(-90) scale(1.2435,1)" style="font-family:'Liberation Serif',serif;font-size:20.5px" fill="#3a3a3a">/s]</text>
<text transform="translate(651.50,248.43) rotate(-90) scale(1.1722,1)" style="font-family:'Liberation Serif',serif;font-style:italic;font-size:20.5px" fill="#3a3a3a">τ</text>
<text transform="translate(651.50,232.00) rotate(-90) scale(0.8878,1)" style="font-family:'Liberation Serif',serif;font-size:20.5px" fill="#3a3a3a">(95%</text>
<text transform="translate(651.50,186.10) rotate(-90) scale(0.9665,1)" style="font-family:'Liberation Serif',serif;font-style:italic;font-size:20.5px" fill="#3a3a3a">C.L.</text>
<text transform="translate(651.50,153.48) rotate(-90) scale(1.1776,1)" style="font-family:'Liberation Serif',serif;font-size:20.5px" fill="#3a3a3a">)</text>
<text transform="translate(651.50,131.91) rotate(-90) scale(0.7263,1)" style="font-family:'Liberation Serif',serif;font-size:20.5px" fill="#3a3a3a">[s]</text>
<text transform="translate(94.68,50.80) scale(1.1019,1)" style="font-family:'Liberation Serif',serif;font-style:italic;font-size:17px" fill="#1a1a1a">ρ</text><text transform="translate(104.94,44.80) scale(1.0492,1)" style="font-family:'Liberation Serif',serif;font-style:italic;font-size:12px" fill="#1a1a1a">DM</text><circle cx="108.0" cy="52.6" r="3.4" fill="none" stroke="#1a1a1a" stroke-width="0.7"/><circle cx="108.0" cy="52.6" r="0.8" fill="#1a1a1a"/><text transform="translate(130.97,50.80) scale(1.4537,1)" style="font-family:'Liberation Serif',serif;font-size:17px" fill="#1a1a1a">=</text><text transform="translate(149.15,50.80) scale(0.9982,1)" style="font-family:'Liberation Serif',serif;font-size:17px" fill="#1a1a1a">0.4</text><text transform="translate(177.35,50.80) scale(1.0737,1)" style="font-family:'Liberation Serif',serif;font-size:17px" fill="#1a1a1a">GeV/cm</text><text transform="translate(240.19,44.30) scale(0.8876,1)" style="font-family:'Liberation Serif',serif;font-size:12px" fill="#1a1a1a">3</text><text transform="translate(251.56,50.80) scale(0.8433,1)" style="font-family:'Liberation Sans',sans-serif;font-size:17px" fill="#1a1a1a">-</text><text transform="translate(263.77,50.80) scale(0.9556,1)" style="font-family:'Liberation Sans',sans-serif;font-size:17px" fill="#1a1a1a">NFW</text>
<text transform="translate(967.48,35.80) scale(1.1019,1)" style="font-family:'Liberation Serif',serif;font-style:italic;font-size:17px" fill="#1a1a1a">ρ</text><text transform="translate(977.74,29.80) scale(1.0492,1)" style="font-family:'Liberation Serif',serif;font-style:italic;font-size:12px" fill="#1a1a1a">DM</text><circle cx="980.8" cy="37.6" r="3.4" fill="none" stroke="#1a1a1a" stroke-width="0.7"/><circle cx="980.8" cy="37.6" r="0.8" fill="#1a1a1a"/><text transform="translate(1003.77,35.80) scale(1.4537,1)" style="font-family:'Liberation Serif',serif;font-size:17px" fill="#1a1a1a">=</text><text transform="translate(1021.95,35.80) scale(0.9982,1)" style="font-family:'Liberation Serif',serif;font-size:17px" fill="#1a1a1a">0.4</text><text transform="translate(1050.15,35.80) scale(1.0737,1)" style="font-family:'Liberation Serif',serif;font-size:17px" fill="#1a1a1a">GeV/cm</text><text transform="translate(1112.99,29.30) scale(0.8876,1)" style="font-family:'Liberation Serif',serif;font-size:12px" fill="#1a1a1a">3</text><text transform="translate(1124.50,35.80) scale(0.7926,1)" style="font-family:'Liberation Serif',serif;font-size:17px" fill="#1a1a1a">-</text><text transform="translate(1136.79,35.80) scale(1.0415,1)" style="font-family:'Liberation Serif',serif;font-size:17px" fill="#1a1a1a">NFW</text>
<line x1="301" y1="218.4" x2="340.3" y2="218.4" stroke="#000" stroke-width="2.2"/>
<text transform="translate(354.04,225.10) scale(0.9156,1)" style="font-family:'Liberation Sans',sans-serif;font-size:18.3px" fill="#1a1a1a">SPI Long.</text>
<line x1="301.2" y1="244.6" x2="337.6" y2="244.6" stroke="#000" stroke-width="1.9" stroke-dasharray="6.6,3.0"/>
<text transform="translate(354.01,251.70) scale(0.9472,1)" style="font-family:'Liberation Sans',sans-serif;font-size:18.3px" fill="#1a1a1a">SPI Lat.</text>
<line x1="465" y1="218.4" x2="501.3" y2="218.4" stroke="#000" stroke-width="1.9" stroke-dasharray="11.3,3.1,1.6,3.1"/>
<text transform="translate(517.73,225.30) scale(0.8615,1)" style="font-family:'Liberation Sans',sans-serif;font-size:18.3px" fill="#1a1a1a">Voyager-1</text>
<line x1="465" y1="244.6" x2="501.3" y2="244.6" stroke="#000" stroke-width="1.9" stroke-dasharray="1.9,2.9"/>
<text transform="translate(517.61,251.70) scale(0.9569,1)" style="font-family:'Liberation Sans',sans-serif;font-size:18.3px" fill="#1a1a1a">CMB</text>
<line x1="297.6" y1="278.8" x2="338.2" y2="278.8" stroke="#1a0ad2" stroke-width="2.2"/>
<text transform="translate(354.10,285.30) scale(1.0285,1)" style="font-family:'Liberation Serif',serif;font-style:italic;font-size:18px" fill="#1a1a1a">π</text><text transform="translate(364.65,278.10) scale(1.3582,1)" style="font-family:'Liberation Serif',serif;font-size:12.5px" fill="#1a1a1a">+</text><text transform="translate(375.20,285.30) scale(1.0285,1)" style="font-family:'Liberation Serif',serif;font-style:italic;font-size:18px" fill="#1a1a1a">π</text><rect x="387.10" y="274.00" width="8.9" height="0.85" fill="#1a1a1a"/>
<line x1="297.6" y1="307.4" x2="338.2" y2="307.4" stroke="#e01a1a" stroke-width="2.2"/>
<text transform="translate(353.92,313.80) scale(1.1354,1)" style="font-family:'Liberation Serif',serif;font-style:italic;font-size:18px" fill="#1a1a1a">μ</text><text transform="translate(364.35,306.60) scale(1.3582,1)" style="font-family:'Liberation Serif',serif;font-size:12.5px" fill="#1a1a1a">+</text><text transform="translate(375.02,313.80) scale(1.1354,1)" style="font-family:'Liberation Serif',serif;font-style:italic;font-size:18px" fill="#1a1a1a">μ</text><rect x="386.80" y="302.50" width="8.9" height="0.85" fill="#1a1a1a"/>
<line x1="297.6" y1="334.2" x2="338.2" y2="334.2" stroke="#0c780c" stroke-width="2.2"/>
<text transform="translate(352.89,341.40) scale(1.0481,1)" style="font-family:'Liberation Sans',sans-serif;font-size:18.3px" fill="#1a1a1a">e</text><text transform="translate(361.54,334.90) scale(1.1103,1)" style="font-family:'Liberation Serif',serif;font-size:12px" fill="#1a1a1a">+</text><text transform="translate(370.19,341.40) scale(1.0481,1)" style="font-family:'Liberation Sans',sans-serif;font-size:18.3px" fill="#1a1a1a">e</text><rect x="380.60" y="330.50" width="8.3" height="0.85" fill="#1a1a1a"/>
<line x1="436.3" y1="278.8" x2="474.4" y2="278.8" stroke="#bf10bf" stroke-width="1.9" stroke-dasharray="11.3,3.1,1.6,3.1"/>
<text transform="translate(491.32,285.60) scale(0.9640,1)" style="font-family:'Liberation Sans',sans-serif;font-size:18.3px" fill="#1a1a1a">Vincent et al.</text>
<rect x="436.3" y="298.8" width="39" height="13.7" fill="rgba(10,130,10,0.095)"/>
<text transform="translate(490.55,313.70) scale(0.9692,1)" style="font-family:'Liberation Sans',sans-serif;font-size:18.3px" fill="#1a1a1a">Boehm et al.</text>
<line x1="917.5" y1="64.0" x2="956.8" y2="64.0" stroke="#000" stroke-width="2.2"/>
<text transform="translate(970.74,71.20) scale(0.9105,1)" style="font-family:'Liberation Sans',sans-serif;font-size:18.3px" fill="#1a1a1a">SPI Long.</text>
<line x1="917.9" y1="90.3" x2="953.5" y2="90.3" stroke="#000" stroke-width="1.9" stroke-dasharray="6.6,3.0"/>
<text transform="translate(970.62,97.40) scale(0.9409,1)" style="font-family:'Liberation Sans',sans-serif;font-size:18.3px" fill="#1a1a1a">SPI Lat.</text>
<line x1="1081.5" y1="64.1" x2="1117.3" y2="64.1" stroke="#000" stroke-width="1.9" stroke-dasharray="11.3,3.1,1.6,3.1"/>
<text transform="translate(1134.93,71.20) scale(0.8435,1)" style="font-family:'Liberation Sans',sans-serif;font-size:18.3px" fill="#1a1a1a">Voyager-1</text>
<line x1="1081.5" y1="90.4" x2="1117.3" y2="90.4" stroke="#000" stroke-width="1.9" stroke-dasharray="1.9,2.9"/>
<text transform="translate(1134.14,97.45) scale(0.9234,1)" style="font-family:'Liberation Sans',sans-serif;font-size:18.3px" fill="#1a1a1a">CMB</text>
<line x1="712.5" y1="277.5" x2="753.8" y2="277.5" stroke="#1a0ad2" stroke-width="2.2"/>
<text transform="translate(768.80,284.70) scale(1.0285,1)" style="font-family:'Liberation Serif',serif;font-style:italic;font-size:18px" fill="#1a1a1a">π</text><text transform="translate(779.35,277.50) scale(1.3582,1)" style="font-family:'Liberation Serif',serif;font-size:12.5px" fill="#1a1a1a">+</text><text transform="translate(789.90,284.70) scale(1.0285,1)" style="font-family:'Liberation Serif',serif;font-style:italic;font-size:18px" fill="#1a1a1a">π</text><rect x="801.80" y="273.40" width="8.9" height="0.85" fill="#1a1a1a"/>
<line x1="712.5" y1="306.4" x2="753.8" y2="306.4" stroke="#e01a1a" stroke-width="2.2"/>
<text transform="translate(768.92,312.40) scale(1.1354,1)" style="font-family:'Liberation Serif',serif;font-style:italic;font-size:18px" fill="#1a1a1a">μ</text><text transform="translate(779.35,305.20) scale(1.3582,1)" style="font-family:'Liberation Serif',serif;font-size:12.5px" fill="#1a1a1a">+</text><text transform="translate(790.02,312.40) scale(1.1354,1)" style="font-family:'Liberation Serif',serif;font-style:italic;font-size:18px" fill="#1a1a1a">μ</text><rect x="801.80" y="301.10" width="8.9" height="0.85" fill="#1a1a1a"/>
<line x1="712.5" y1="333.5" x2="753.8" y2="333.5" stroke="#0c780c" stroke-width="2.2"/>
<text transform="translate(768.09,340.80) scale(1.0481,1)" style="font-family:'Liberation Sans',sans-serif;font-size:18.3px" fill="#1a1a1a">e</text><text transform="translate(776.74,334.30) scale(1.1103,1)" style="font-family:'Liberation Serif',serif;font-size:12px" fill="#1a1a1a">+</text><text transform="translate(785.39,340.80) scale(1.0481,1)" style="font-family:'Liberation Sans',sans-serif;font-size:18.3px" fill="#1a1a1a">e</text><rect x="795.80" y="329.90" width="8.3" height="0.85" fill="#1a1a1a"/></svg>
</body></html>
